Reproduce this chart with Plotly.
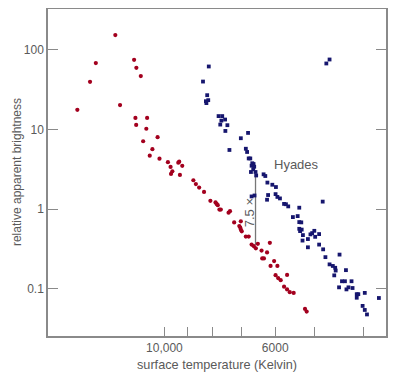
import math
import plotly.graph_objects as go

# Red stars (nearby / field stars)
red_temp = [14940, 14090, 13720, 12540, 12270, 11500, 11380, 11150, 11430, 10830,
            11390, 10870, 10320, 11030, 10570, 10700, 10230, 9840, 9720, 9640,
            9700, 9380, 9340, 9210, 9310, 8750, 8650, 8520, 8330, 8090,
            7900, 7860, 7820, 7760, 7710, 7440, 7390, 7250, 7030, 7080,
            7050, 7030, 7000, 6870, 6780, 6690, 6620, 6560, 6500, 6390,
            6150, 6230, 6370, 6320, 6030, 6130, 5940, 5990, 5920, 5850,
            5680, 5760, 5680, 5610, 5510, 5230, 5190]
red_bright = [17.6, 39.6, 68.0, 153, 20.2, 74.8, 59.4, 46.7, 13.95, 13.95,
              11.4, 10.2, 7.98, 7.10, 5.64, 4.68, 4.29, 3.88, 3.38, 2.98,
              2.76, 3.82, 3.94, 3.49, 2.68, 2.30, 2.06, 1.86, 1.64, 1.27,
              1.21, 1.16, 1.12, 0.986, 0.986, 0.90, 0.94, 0.680, 0.702, 0.611,
              0.585, 0.552, 0.526, 0.451, 0.451, 0.358, 0.342, 0.321, 0.366, 0.301,
              0.377, 0.285, 0.240, 0.240, 0.222, 0.193, 0.193, 0.148, 0.136, 0.128,
              0.149, 0.106, 0.098, 0.0904, 0.0886, 0.0557, 0.0516]

# Blue stars (Hyades)
blue_temp = [4740, 4670, 8150, 8370, 8210, 8260, 8170, 8240, 7790, 7660,
             7690, 7560, 7730, 7480, 7550, 6800, 7030, 7410, 6870, 6830,
             6780, 6730, 6670, 6630, 6690, 6610, 6640, 6710, 6570, 6550,
             6330, 6280, 6220, 6080, 5980, 6690, 6600, 6200, 6230, 5990,
             5940, 5870, 5760, 5710, 5650, 5370, 4820, 5530, 5410, 5370,
             5320, 5370, 5310, 5350, 5280, 5290, 5160, 5100, 5060, 5010,
             4990, 4900, 5160, 4900, 4810, 4760, 4460, 4670, 4600, 4550,
             4540, 4570, 4330, 4410, 4350, 4220, 4470, 4320, 4280, 4200,
             4120, 4090, 4120, 3970, 3720, 4010, 3970, 3930]
blue_bright = [67.3, 75.5, 61.7, 39.9, 26.9, 22.6, 23.3, 21.4, 14.7, 14.7,
               12.9, 13.3, 11.5, 11.3, 9.57, 9.04, 7.75, 5.52, 5.72, 5.21,
               4.32, 4.32, 3.76, 3.68, 3.50, 3.40, 3.16, 2.92, 2.92, 2.64,
               2.73, 2.60, 2.15, 2.02, 1.89, 1.44, 1.48, 1.50, 1.31, 1.54,
               1.42, 1.36, 1.16, 1.15, 1.08, 1.04, 1.24, 0.793, 0.816, 0.686,
               0.680, 0.565, 0.552, 0.529, 0.471, 0.402, 0.420, 0.481, 0.499, 0.533,
               0.448, 0.485, 0.331, 0.358, 0.312, 0.249, 0.268, 0.202, 0.193, 0.183,
               0.169, 0.147, 0.171, 0.124, 0.124, 0.124, 0.104, 0.098, 0.104, 0.102,
               0.0853, 0.0853, 0.0770, 0.0886, 0.0764, 0.0608, 0.0541, 0.0475]

# 7.5x gap marker
gap_temp = [6570, 6570]
gap_bright = [2.65, 0.355]

x_tickvals = [10000, 9000, 8000, 7000, 6000, 5000, 4000]
x_ticktext = ["10,000", "", "", "", "6000", "", ""]
y_tickvals = [0.1, 1, 10, 100]
y_ticktext = ["0.1", "1", "10", "100"]

FONT = "Liberation Sans, Arial, Helvetica, sans-serif"
GRAY = "#8a8a8a"
TXT = "#5a5a5a"

fig = go.Figure()
fig.add_trace(go.Scatter(x=gap_temp, y=gap_bright, mode="lines",
                         line=dict(color="#777777", width=1.3), hoverinfo="skip"))
fig.add_trace(go.Scatter(x=red_temp, y=red_bright, mode="markers",
                         marker=dict(color="#a3001e", size=4.2, symbol="circle")))
fig.add_trace(go.Scatter(x=blue_temp, y=blue_bright, mode="markers",
                         marker=dict(color="#16166e", size=3.8, symbol="square")))

# the page body adds an 8px offset, so the figure is sized to fit the window
fig.update_layout(
    width=391, height=369,
    margin=dict(l=40, r=13, t=1, b=41),
    paper_bgcolor="white", plot_bgcolor="white",
    showlegend=False,
    font=dict(family=FONT, size=12, color=TXT),
    xaxis=dict(
        type="log", range=[4.2331, 3.5563], automargin=False,
        tickvals=x_tickvals, ticktext=x_ticktext,
        ticks="inside", ticklen=9, tickwidth=1.2, tickcolor=GRAY,
        showline=True, linecolor=GRAY, linewidth=1.5, mirror=True,
        showgrid=False, zeroline=False,
        tickfont=dict(size=12, color=TXT),
        title=dict(text=""),
    ),
    yaxis=dict(
        type="log", range=[-1.594, 2.512], automargin=False,
        tickvals=y_tickvals, ticktext=y_ticktext,
        ticks="inside", ticklen=10, tickwidth=1.2, tickcolor=GRAY,
        showline=True, linecolor=GRAY, linewidth=1.5, mirror="ticks",
        showgrid=False, zeroline=False,
        tickfont=dict(size=12, color=TXT),
        title=dict(text=""),
    ),
    annotations=[
        dict(x=0.5, y=-0.09, xref="paper", yref="paper", yanchor="middle",
             text="surface temperature (Kelvin)", showarrow=False,
             font=dict(size=12.7, color=TXT)),
        dict(x=-0.093, y=0.5, xref="paper", yref="paper", xanchor="center",
             text="relative apparent brightness", textangle=-90, showarrow=False,
             font=dict(size=12, color=TXT)),
        dict(x=math.log10(5445), y=math.log10(3.58), xref="x", yref="y",
             text="Hyades", showarrow=False, font=dict(size=13, color=TXT)),
        dict(x=math.log10(6765), y=math.log10(0.891), xref="x", yref="y",
             text="7.5 ×", textangle=-90, showarrow=False, font=dict(size=13, color=TXT)),
    ],
)

fig.write_html("out.html")
